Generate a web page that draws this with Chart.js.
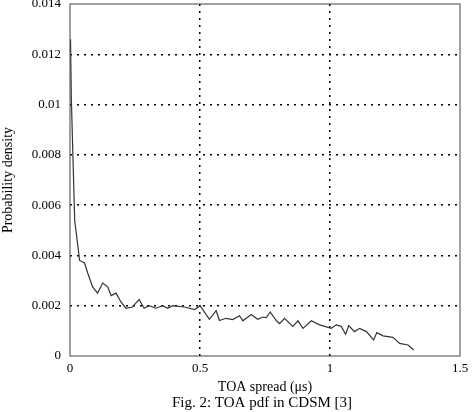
<!DOCTYPE html>
<html>
<head>
<meta charset="utf-8">
<script src="https://cdn.jsdelivr.net/npm/chart.js@4"></script>
<style>
  html, body { margin: 0; padding: 0; background: #fff; }
  #wrap { width: 474px; height: 412px; position: relative; }
</style>
</head>
<body>
<div id="wrap"><canvas id="c"></canvas></div>
<script>
// TOA pdf curve (x: µs, y: probability density)
const toaX = [0, 0.002, 0.005, 0.018, 0.037, 0.056, 0.068, 0.087, 0.106, 0.126, 0.145, 0.158, 0.177, 0.196, 0.215,
  0.24, 0.266, 0.285, 0.305, 0.33, 0.357, 0.376, 0.395, 0.44, 0.48, 0.5, 0.536, 0.562, 0.575, 0.6, 0.626, 0.652,
  0.665, 0.697, 0.722, 0.742, 0.755, 0.77, 0.794, 0.806, 0.825, 0.857, 0.877, 0.896, 0.928, 0.96, 1.005, 1.024,
  1.043, 1.06, 1.072, 1.094, 1.114, 1.14, 1.168, 1.18, 1.204, 1.242, 1.268, 1.3, 1.322];
const density = [0.0125, 0.0126, 0.0103, 0.0054, 0.0038, 0.0037, 0.0033, 0.00275, 0.0025, 0.0029, 0.00275, 0.0024,
  0.0025, 0.00215, 0.0019, 0.00195, 0.00225, 0.0019, 0.002, 0.0019, 0.002, 0.0019, 0.002, 0.00195, 0.00185, 0.002,
  0.00146, 0.0018, 0.00141, 0.0015, 0.00145, 0.0016, 0.0014, 0.00165, 0.00146, 0.00155, 0.00153, 0.00175, 0.0014,
  0.00129, 0.0015, 0.00118, 0.0014, 0.0011, 0.0014, 0.00124, 0.0011, 0.00124, 0.00118, 0.00086, 0.00121, 0.00097,
  0.0011, 0.00097, 0.00064, 0.00093, 0.0008, 0.00074, 0.0005, 0.00044, 0.00024];
const xTicks = [0, 0.5, 1, 1.5];
const yTicks = [0, 0.002, 0.004, 0.006, 0.008, 0.01, 0.012, 0.014];

const FONT = 'Liberation Serif';

const boxPlugin = {
  id: 'box',
  afterDraw(chart) {
    const { ctx, chartArea: a } = chart;
    ctx.save();
    ctx.strokeStyle = '#444';
    ctx.lineWidth = 1;
    ctx.strokeRect(a.left, a.top, a.right - a.left, a.bottom - a.top);
    ctx.fillStyle = '#000';
    ctx.font = '15px ' + FONT;
    ctx.textAlign = 'center';
    ctx.fillText('Fig. 2: TOA pdf in CDSM [3]', 262, 407);
    ctx.restore();
  }
};

const gridColor = (c) => (c.index === 0 || c.index === c.scale.ticks.length - 1) ? 'transparent' : '#000';

new Chart(document.getElementById('c'), {
  type: 'line',
  data: {
    datasets: [{
      data: toaX.map((x, i) => ({ x, y: density[i] })),
      borderColor: '#333', borderWidth: 1.2, pointRadius: 0, tension: 0, fill: false
    }]
  },
  options: {
    responsive: true, maintainAspectRatio: false, animation: false,
    layout: { padding: { left: 0, right: 14, top: 4, bottom: 16 } },
    plugins: { legend: { display: false }, tooltip: { enabled: false } },
    scales: {
      x: {
        type: 'linear', min: 0, max: 1.5,
        afterBuildTicks: (s) => { s.ticks = xTicks.map((v) => ({ value: v })); },
        afterFit: (s) => { s.height = 40; s.paddingLeft = 0; s.paddingRight = 0; },
        grid: { color: gridColor, lineWidth: 1.5, drawTicks: false },
        border: { display: false, dash: [2, 5] },
        ticks: { color: '#000', font: { family: FONT, size: 13 }, padding: 5, maxRotation: 0, callback: (v) => String(v) },
        title: { display: true, text: 'TOA spread (μs)', color: '#000', font: { family: FONT, size: 14 }, padding: { top: 0, bottom: 0 } }
      },
      y: {
        min: 0, max: 0.014,
        afterBuildTicks: (s) => { s.ticks = yTicks.map((v) => ({ value: v })); },
        afterFit: (s) => { s.width = 70; s.paddingTop = 0; s.paddingBottom = 0; },
        grid: { color: gridColor, lineWidth: 1.5, drawTicks: false },
        border: { display: false, dash: [2, 5] },
        ticks: { color: '#000', font: { family: FONT, size: 13 }, padding: 9, callback: (v) => String(+v.toFixed(3)) },
        title: { display: true, text: 'Probability density', color: '#000', font: { family: FONT, size: 14 }, padding: { top: 0, bottom: 2 } }
      }
    }
  },
  plugins: [boxPlugin]
});
</script>
</body>
</html>
